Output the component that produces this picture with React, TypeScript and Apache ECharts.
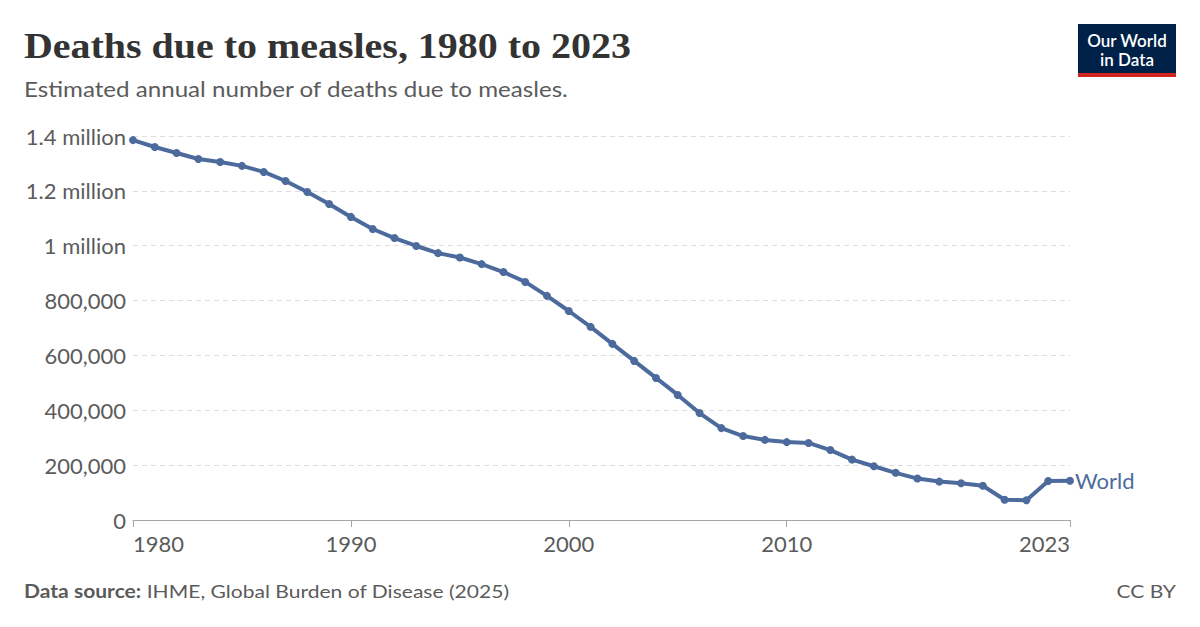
import React, { useEffect, useRef } from "react";
import * as echarts from "echarts";

// Annual estimated deaths due to measles, world
const years: number[] = [
  1980, 1981, 1982, 1983, 1984, 1985, 1986, 1987, 1988, 1989,
  1990, 1991, 1992, 1993, 1994, 1995, 1996, 1997, 1998, 1999,
  2000, 2001, 2002, 2003, 2004, 2005, 2006, 2007, 2008, 2009,
  2010, 2011, 2012, 2013, 2014, 2015, 2016, 2017, 2018, 2019,
  2020, 2021, 2022, 2023,
];
const worldDeaths: number[] = [
  1385000, 1360000, 1338000, 1316000, 1305000, 1291000, 1269000, 1236000, 1196000, 1152000,
  1105000, 1061000, 1028000, 999000, 973000, 957000, 933000, 904000, 868000, 817000,
  762000, 704000, 642000, 580000, 518000, 456000, 390000, 335000, 306000, 292000,
  284000, 281000, 255000, 220000, 196000, 172000, 151000, 140000, 134000, 125000,
  74000, 72000, 142000, 143000,
];
const xTickYears: number[] = [1980, 1990, 2000, 2010, 2023];

const TEXT = "#5b5b5b";
const LINE = "#4c6a9c";
const FONT = "Lato, 'Noto Sans', sans-serif";

function formatDeaths(v: number): string {
  if (v >= 1000000) return `${+(v / 1000000).toFixed(1)} million`;
  return v.toLocaleString("en-US");
}

export default function App() {
  const ref = useRef<HTMLDivElement>(null);

  useEffect(() => {
    if (!ref.current) return;
    const chart = echarts.init(ref.current, undefined, { renderer: "svg" });
    chart.setOption({
      animation: false,
      backgroundColor: "#ffffff",
      graphic: [
        // Header
        {
          type: "text",
          x: 24,
          y: 46,
          scaleX: 1.11,
          style: {
            text: "Deaths due to measles, 1980 to 2023",
            fill: "#333333",
            font: "bold 36px 'Liberation Serif', 'DejaVu Serif', serif",
            align: "left",
            verticalAlign: "middle",
          },
        },
        {
          type: "text",
          x: 24,
          y: 89,
          scaleX: 1.15,
          style: {
            text: "Estimated annual number of deaths due to measles.",
            fill: TEXT,
            font: `21px ${FONT}`,
            align: "left",
            verticalAlign: "middle",
          },
        },
        // Footer
        {
          type: "text",
          x: 24,
          y: 591,
          scaleX: 1.17,
          style: {
            text: "{b|Data source:} IHME, Global Burden of Disease (2025)",
            fill: TEXT,
            font: `18px ${FONT}`,
            align: "left",
            verticalAlign: "middle",
            rich: { b: { fontFamily: FONT, fontWeight: "bold", fontSize: 18, fill: TEXT } },
          },
        },
        {
          type: "text",
          x: 1176,
          y: 591,
          scaleX: 1.17,
          style: {
            text: "CC BY",
            fill: TEXT,
            font: `18px ${FONT}`,
            align: "right",
            verticalAlign: "middle",
          },
        },
        // Logo
        { type: "rect", shape: { x: 1078, y: 24, width: 98, height: 49 }, style: { fill: "#002147" } },
        { type: "rect", shape: { x: 1078, y: 73, width: 98, height: 4 }, style: { fill: "#ce261e" } },
        {
          type: "text",
          x: 1127,
          y: 40,
          style: {
            text: "Our World",
            fill: "#ffffff",
            font: `600 17px ${FONT}`,
            align: "center",
            verticalAlign: "middle",
          },
        },
        {
          type: "text",
          x: 1127,
          y: 59,
          style: {
            text: "in Data",
            fill: "#ffffff",
            font: `600 17px ${FONT}`,
            align: "center",
            verticalAlign: "middle",
          },
        },
      ],
      grid: { left: 133, right: 130, top: 136, bottom: 107, containLabel: false },
      xAxis: {
        type: "value",
        min: 1980,
        max: 2023,
        splitLine: { show: false },
        axisLine: { show: true, lineStyle: { color: "#a6a6a6", width: 1 } },
        axisTick: {
          show: true,
          length: 7,
          customValues: xTickYears,
          lineStyle: { color: "#a6a6a6" },
        },
        axisLabel: {
          customValues: xTickYears,
          formatter: (v: number) => String(v),
          fontFamily: FONT,
          fontSize: 22,
          color: TEXT,
          margin: 12,
          alignMinLabel: "left",
          alignMaxLabel: "right",
        },
      },
      yAxis: {
        type: "value",
        min: 0,
        max: 1400000,
        interval: 200000,
        axisLine: { show: false },
        axisTick: { show: false },
        splitLine: { show: true, lineStyle: { color: "#dddddd", type: [5, 4], width: 1 } },
        axisLabel: {
          formatter: formatDeaths,
          margin: 7,
          fontFamily: FONT,
          fontSize: 22,
          color: TEXT,
        },
      },
      series: [
        {
          type: "line",
          name: "World",
          data: years.map((y, i) => [y, worldDeaths[i]]),
          symbol: "circle",
          symbolSize: 8,
          showAllSymbol: true,
          lineStyle: { color: LINE, width: 4 },
          itemStyle: { color: LINE },
          endLabel: {
            show: true,
            formatter: "World",
            fontFamily: FONT,
            fontSize: 22,
            color: LINE,
            distance: 5,
          },
        },
      ],
    });
    return () => chart.dispose();
  }, []);

  return (
    <div
      ref={ref}
      style={{ position: "fixed", left: 0, top: 0, width: 1200, height: 627 }}
    />
  );
}
